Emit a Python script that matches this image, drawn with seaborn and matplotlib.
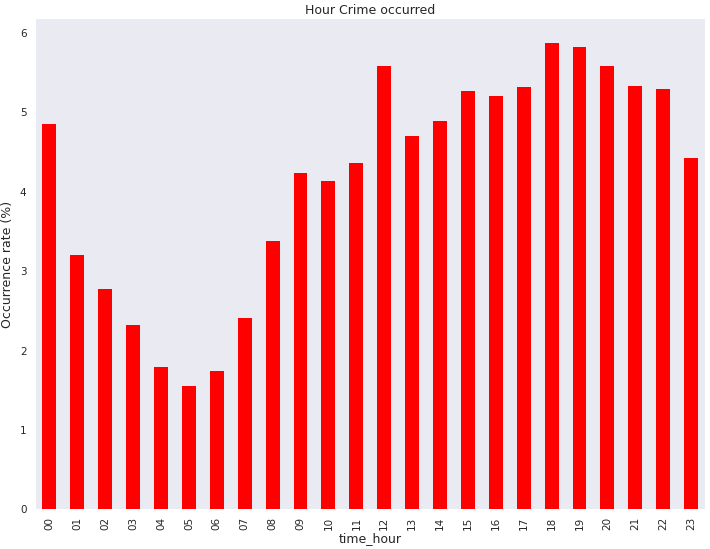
import matplotlib
matplotlib.use("Agg")
import matplotlib.pyplot as plt
import seaborn as sns

# hourly crime occurrence rate (%)
hours = ["%02d" % h for h in range(24)]
rates = [4.85, 3.21, 2.78, 2.32, 1.80, 1.56, 1.74, 2.41, 3.38, 4.24, 4.14, 4.36,
         5.58, 4.70, 4.89, 5.27, 5.21, 5.32, 5.88, 5.82, 5.59, 5.33, 5.30, 4.43]

sns.set_style("dark")
plt.rcParams['font.family'] = ['DejaVu Sans']

fig, ax = plt.subplots(figsize=(7.1, 5.49), dpi=100)
sns.barplot(x=hours, y=rates, color="red", saturation=1, width=0.5,
            edgecolor="none", ax=ax)
ax.set_xlim(-0.5, 23.5)
ax.set_title("Hour Crime occurred", fontsize=9, pad=4)
ax.set_xlabel("time_hour", fontsize=9, labelpad=1)
ax.set_ylabel("Occurrence rate (%)", fontsize=9)
ax.tick_params(axis='x', rotation=90, labelsize=7.5, pad=2)
ax.tick_params(axis='y', labelsize=7.5, pad=3)
for s in ax.spines.values():
    s.set_visible(False)
plt.subplots_adjust(left=0.05, right=0.993, top=0.965, bottom=0.072)
plt.savefig("out.png")
